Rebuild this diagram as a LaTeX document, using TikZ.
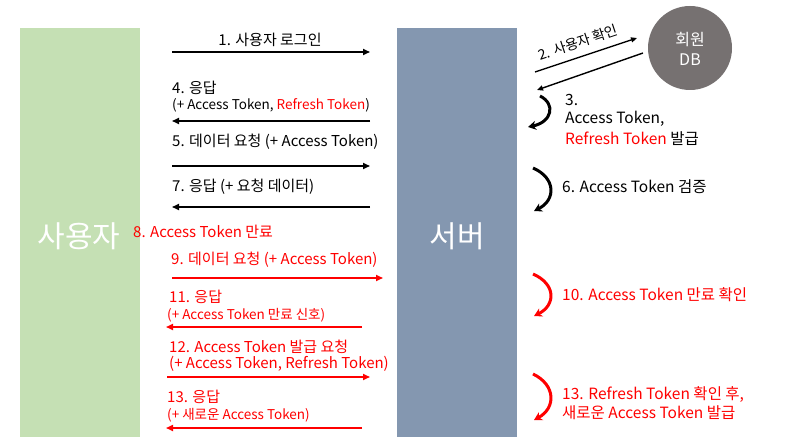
\documentclass[tikz,border=0pt]{standalone}
\usepackage{fontspec}
\setmainfont{Noto Sans CJK KR}
\usetikzlibrary{arrows.meta}
\definecolor{ured}{HTML}{FF0000}
\tikzset{
 msg/.style={line width=1.6pt,-{Triangle[length=7pt,width=6pt]}},
 rmsg/.style={msg,draw=ured},
 lbl/.style={font=\fontsize{15}{16}\selectfont,inner sep=0pt},
 rlbl/.style={font=\fontsize{15.5}{16}\selectfont,inner sep=0pt,anchor=west},
 sml/.style={font=\fontsize{13.5}{14}\selectfont,inner sep=0pt},
 curv/.style={line width=3pt,-{Stealth[length=8pt,width=9pt]}},
}
\begin{document}
\begin{tikzpicture}[x=1pt,y=-1pt]
\useasboundingbox (0,0) rectangle (792,441);
\fill[white] (0,0) rectangle (792,441);
\node[fill={rgb,255:red,197;green,224;blue,180},minimum width=120pt,minimum height=409pt,inner sep=0pt] (user) at (80,232.5) {};
\node[fill={rgb,255:red,132;green,151;blue,176},minimum width=120pt,minimum height=409pt,inner sep=0pt] (srv) at (457,232.5) {};
\node[font=\fontsize{30}{31}\selectfont,text=white] (ut) at (79,236) {사용자};
\node[font=\fontsize{30}{31}\selectfont,text=white] (st) at (457,236) {서버};
\node[circle,fill={rgb,255:red,118;green,113;blue,113},minimum size=84pt,inner sep=0pt] (db) at (690,48) {};
\node[font=\fontsize{16}{20}\selectfont,text=white,align=center] (dbt) at (690,49) {회원\\DB};
\foreach \n/\y in {a1/52,a4/121,a5/166,a7/207,a9/278,a11/327,a12/377,a13/428}{
 \coordinate (\n L) at (172,\y); \coordinate (\n R) at (370,\y);}
\draw[msg] (a1L) -- (a1R);
\node[lbl] (t1) at (270,40) {1. 사용자 로그인};
\draw[msg] (a4R) -- (a4L);
\node[lbl,anchor=west] (t4) at (172,88) {4. 응답};
\node[sml,anchor=west] (t4b) at (172,105) {(+ Access Token, \textcolor{ured}{Refresh Token})};
\draw[msg] (a5L) -- (a5R);
\node[lbl,anchor=west] (t5) at (172,142) {5. 데이터 요청 (+ Access Token)};
\draw[msg] (a7R) -- (a7L);
\node[lbl,anchor=west] (t7) at (172,187) {7. 응답 (+ 요청 데이터)};
\node[lbl,anchor=west,text=ured] (t8) at (133,232) {8. Access Token 만료};
\coordinate (a9R) at (383,278);
\draw[rmsg] (a9L) -- (a9R);
\node[lbl,anchor=west,text=ured] (t9) at (171,260) {9. 데이터 요청 (+ Access Token)};
\coordinate (a11R) at (362,327); \coordinate (a11L) at (166,327);
\draw[rmsg] (a11R) -- (a11L);
\node[lbl,anchor=west,text=ured] (t11) at (169,297) {11. 응답};
\node[sml,anchor=west,text=ured] (t11b) at (167,315) {(+ Access Token 만료 신호)};
\coordinate (a12L) at (167,377);
\draw[rmsg] (a12L) -- (a12R);
\node[lbl,anchor=west,text=ured] (t12) at (169,347) {12. Access Token 발급 요청};
\node[lbl,anchor=west,text=ured] (t12b) at (169,364) {(+ Access Token, Refresh Token)};
\coordinate (a13R) at (362,428); \coordinate (a13L) at (166,428);
\draw[rmsg] (a13R) -- (a13L);
\node[lbl,anchor=west,text=ured] (t13) at (167,397) {13. 응답};
\node[sml,anchor=west,text=ured] (t13b) at (167,415) {(+ 새로운 Access Token)};
% right side
\coordinate (d1) at (535,72); \coordinate (d2) at (637,38);
\draw[line width=1.4pt,-{Triangle[length=6pt,width=5pt]}] (d1) -- (d2);
\node[font=\fontsize{14}{15}\selectfont,inner sep=0pt,rotate=18.4,anchor=south] (t2) at (580,49) {2. 사용자 확인};
\coordinate (d3) at (643,53); \coordinate (d4) at (537,90);
\draw[line width=1.4pt,-{Triangle[length=6pt,width=5pt]}] (d3) -- (d4);
\coordinate (c3a) at (540,96); \coordinate (c3b) at (528,127);
\draw[curv] (c3a) .. controls (556,104) and (552,122) .. (c3b);
\node[rlbl] (t3) at (565,100) {3.};
\node[rlbl] (t3b) at (565,119) {Access Token,};
\node[rlbl] (t3c) at (565,139) {\textcolor{ured}{Refresh Token} 발급};
\coordinate (c6a) at (533,168); \coordinate (c6b) at (534,211);
\draw[curv] (c6a) .. controls (556,178) and (556,200) .. (c6b);
\node[rlbl] (t6) at (562,187) {6. Access Token 검증};
\coordinate (c10a) at (533,274); \coordinate (c10b) at (534,316);
\draw[curv,draw=ured] (c10a) .. controls (556,284) and (556,305) .. (c10b);
\node[rlbl,text=ured] (t10) at (562,295) {10. Access Token 만료 확인};
\coordinate (c13a) at (533,374); \coordinate (c13b) at (534,420);
\draw[curv,draw=ured] (c13a) .. controls (556,385) and (556,408) .. (c13b);
\node[rlbl,text=ured] (t13r) at (562,395) {13. Refresh Token 확인 후,};
\node[rlbl,text=ured] (t13r2) at (562,413) {새로운 Access Token 발급};
\end{tikzpicture}
\end{document}
